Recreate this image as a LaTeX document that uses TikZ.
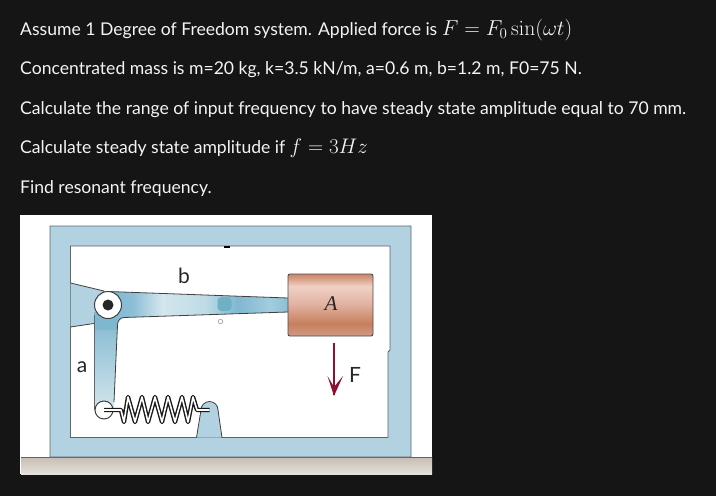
\documentclass[tikz,border=0pt]{standalone}
\usepackage{graphicx}
\usepackage[no-math]{fontspec}
\setmainfont{Lato}
\newfontfamily\serifA{Liberation Serif}
\definecolor{pagebg}{HTML}{151515}
\definecolor{frameblue}{HTML}{B2D2E2}
\definecolor{edgegrey}{HTML}{5A6468}
\definecolor{armdark}{HTML}{7FB7D0}
\definecolor{armlight}{HTML}{D3E5EC}
\definecolor{blobblue}{HTML}{6FB0C4}
\definecolor{forcered}{HTML}{8E0F30}
\definecolor{inktext}{HTML}{F4F4F4}
\pgfdeclareverticalshading{massbar}{100bp}{
 rgb(0bp)=(0.82,0.60,0.52);
 rgb(25bp)=(0.82,0.60,0.52);
 rgb(35bp)=(0.78,0.50,0.37);
 rgb(50bp)=(0.88,0.69,0.62);
 rgb(65bp)=(0.94,0.82,0.78);
 rgb(72bp)=(0.84,0.60,0.50);
 rgb(75bp)=(0.79,0.52,0.44);
 rgb(100bp)=(0.79,0.52,0.44)}
\pgfdeclareverticalshading{groundbar}{100bp}{
 rgb(0bp)=(0.90,0.88,0.86);
 rgb(25bp)=(0.90,0.88,0.86);
 rgb(75bp)=(0.78,0.74,0.70);
 rgb(100bp)=(0.78,0.74,0.70)}
\pgfdeclarehorizontalshading{armbar}{100bp}{
 rgb(0bp)=(0.50,0.72,0.82);
 rgb(25bp)=(0.50,0.72,0.82);
 rgb(32bp)=(0.55,0.75,0.84);
 rgb(40bp)=(0.83,0.90,0.93);
 rgb(52bp)=(0.75,0.86,0.90);
 rgb(61bp)=(0.50,0.72,0.82);
 rgb(70bp)=(0.64,0.80,0.87);
 rgb(75bp)=(0.55,0.75,0.83);
 rgb(100bp)=(0.55,0.75,0.83)}
\tikzset{
 line/.style={anchor=base west,text=inktext,font=\fontsize{17.58}{20}\selectfont,inner sep=0pt},
 tag/.style={text=black!85,font=\fontsize{21}{24}\selectfont,inner sep=0pt},
 partedge/.style={draw=edgegrey,line width=0.9pt},
 armedge/.style={draw=black!75,line width=0.8pt},
 joint/.style={circle,draw=black!75,fill=white,line width=1pt,inner sep=0pt},
 coilwire/.style={line width=1.4pt,draw=black!90,double=white,double distance=1.6pt,line join=round},
}
\begin{document}
\begin{tikzpicture}[x=1pt,y=-1pt]
\useasboundingbox (0,0) rectangle (716,496);
\fill[pagebg] (0,0) rectangle (716,496);
\node[line] (l1) at (20,35) {Assume 1 Degree of Freedom system. Applied force is \scalebox{1.25}{$F=F_0\sin(\omega t)$}};
\node[line] (l2) at (20,74) {Concentrated mass is m=20 kg, k=3.5 kN/m, a=0.6 m, b=1.2 m, F0=75 N.};
\node[line] (l3) at (20,114) {Calculate the range of input frequency to have steady state amplitude equal to 70 mm.};
\node[line] (l4) at (20,153) {Calculate steady state amplitude if \scalebox{1.22}{$f=3Hz$}};
\node[line] (l5) at (20,193) {Find resonant frequency.};
% white panel and ground
\fill[white] (20,215) rectangle (432,474);
\shade[shading=groundbar] (21,457) rectangle (432,474);
\draw[edgegrey,line width=0.9pt] (21,457.5) -- (432,457.5);
% frame
\path[partedge,fill=frameblue,even odd rule]
 (50,226) -- (411,226) -- (411,457) -- (50,457) -- cycle
 (70.5,246) -- (390,246) -- (390,350) -- (388,352) -- (388,437.5) -- (70.5,437.5) -- cycle;
\draw[black,line width=1.2pt] (224,247) -- (230,247);
% fixed wedge
\path[armedge,fill=frameblue] (70.5,283) -- (104,291) -- (104,322) -- (70.5,327);
% support
\path[armedge,fill=frameblue] (196.5,437.5) -- (201,410) arc[start angle=180,end angle=360,radius=8.5] -- (222,437.5);
% vertical arm
\shade[top color=armdark,bottom color=armlight]
 (94,312) -- (118,312) -- (114,410) -- (94,410) -- cycle;
% horizontal arm
\shade[shading=armbar]
 (108,291.5) -- (288,298) -- (288,312) -- (124,317.5) to[out=180,in=90] (117.5,325) -- (108,325) -- cycle;
\fill[armdark] (94,318) rectangle (117.5,330);
\draw[black!75,line width=0.8pt] (108,291.5) -- (288,298);
\draw[black!75,line width=0.8pt] (288,312) -- (124,317.5) to[out=180,in=90] (117.5,325) -- (114,402);
\draw[black!60,line width=0.8pt] (94,315) -- (94,410);
\node[fill=blobblue,rounded corners=4pt,minimum width=14pt,minimum height=14pt,inner sep=0pt] (blob) at (224.5,304) {};
\node[circle,draw=black!35,line width=0.7pt,minimum size=4.5pt,inner sep=0pt] (smallmark) at (220.5,321.5) {};
% mass
\node[draw=black!70,line width=0.9pt,rounded corners=2pt,minimum width=85pt,minimum height=62pt,inner sep=0pt,shading=massbar,shade] (massA) at (330.5,305) {};
\node[font=\fontsize{21}{24}\selectfont\serifA\itshape,text=black!85,inner sep=0pt] (labelA) at (331,304) {A};
% pivots
\node[joint,minimum size=27pt] (toppivot) at (108,305) {};
\node[circle,fill=black!85,minimum size=11pt,inner sep=0pt] (toppin) at (108,305) {};
\node[joint,minimum size=18pt] (lowpivot) at (104,410) {};
\coordinate (supporteye) at (209.5,410);
% spring
\draw[coilwire] (lowpivot.center) -- ++(17,0) -- ++(3,12) -- ++(4,-25) -- ++(7,25) -- ++(7,-25) -- ++(6,25) -- ++(7,-25) -- ++(7,25) -- ++(6,-25) -- ++(7,25) -- ++(7,-25) -- ++(6,25) -- ++(5,-25) -- ++(4,13) -- (supporteye);
% labels and force
\node[tag] (labelb) at (184,276) {b};
\node[tag] (labela) at (82,367) {a};
\node[tag] (labelF) at (355,375) {F};
\coordinate (forcestart) at (334,343);
\coordinate (forceend) at (334,395);
\draw[forcered,line width=2.2pt] (forcestart) -- (forceend);
\fill[forcered] (334,396) -- (327.5,376) -- (334,387) -- (343,376) -- cycle;
\end{tikzpicture}
\end{document}
